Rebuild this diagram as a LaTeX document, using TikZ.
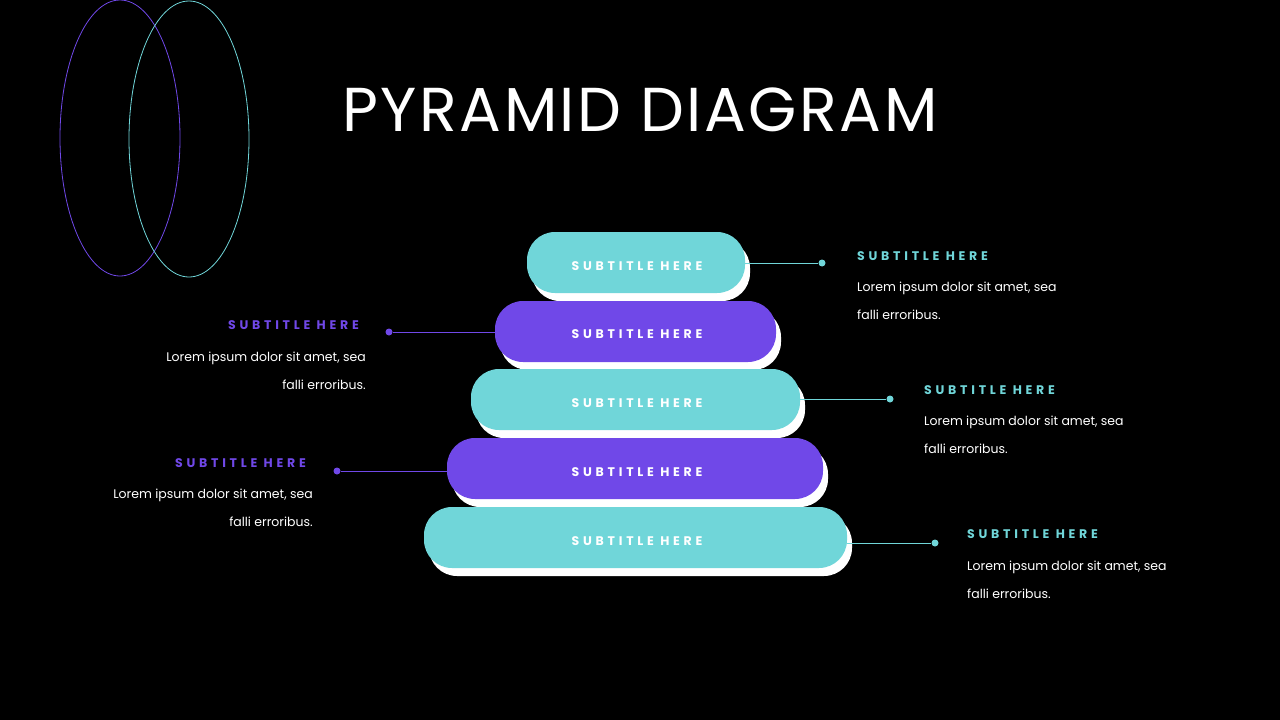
\documentclass[tikz,border=0pt]{standalone}
\usepackage{fontspec}
\setmainfont{Poppins}
\newfontfamily\sub[LetterSpace=30]{Poppins}
\newfontfamily\ttl[LetterSpace=4]{Poppins}
\definecolor{cy}{HTML}{70D6D9}
\definecolor{pu}{HTML}{7048E8}
\begin{document}
\begin{tikzpicture}[x=1pt,y=-1pt,
  pill/.style={rounded corners=28pt},
  pt/.style={text=white,font=\sub\bfseries\fontsize{12.5}{13}\selectfont},
  lab/.style={font=\sub\bfseries\fontsize{12.5}{13}\selectfont,inner sep=0pt},
  body/.style={text=white,font=\fontsize{12.5}{28}\selectfont,inner sep=0pt},
  ln/.style={line width=0.6pt},
  dot/.style={circle,inner sep=0pt,minimum size=7pt}]
\fill[black] (0,0) rectangle (1280,720);
\useasboundingbox (0,0) rectangle (1280,720);
\draw[pu,line width=0.8pt] (120,138) ellipse [x radius=60,y radius=138];
\draw[cy,line width=0.8pt] (189,139) ellipse [x radius=60,y radius=138];
\node[text=white,font=\ttl\fontsize{62}{62}\selectfont] (title) at (640,110) {PYRAMID DIAGRAM};
% pills
\foreach \n/\a/\b/\ya/\yb/\c in {1/527/745/232/293/cy,2/495/776/301/362/pu,3/471/800/369/430/cy,4/447/823/438/499/pu,5/424/847/507/568/cy}{
  \fill[white,pill] (\a+5,\ya+8) rectangle (\b+5,\yb+8);
  \fill[\c,pill] (\a,\ya) rectangle (\b,\yb);
}
\node[pt] (p1) at (637,266) {SUBTITLE HERE};
\node[pt] (p2) at (637,334) {SUBTITLE HERE};
\node[pt] (p3) at (637,403) {SUBTITLE HERE};
\node[pt] (p4) at (637,472) {SUBTITLE HERE};
\node[pt] (p5) at (637,541) {SUBTITLE HERE};
\coordinate (e1) at (745,263); \coordinate (e2) at (495,332);
\coordinate (e3) at (800,399); \coordinate (e4) at (447,471);
\coordinate (e5) at (847,543);
\node[dot,fill=cy] (d1) at (822,263) {};
\node[dot,fill=pu] (d2) at (389,332) {};
\node[dot,fill=cy] (d3) at (890,399) {};
\node[dot,fill=pu] (d4) at (337,471) {};
\node[dot,fill=cy] (d5) at (935,543) {};
\draw[ln,cy] (e1) -- (d1); \draw[ln,pu] (e2) -- (d2);
\draw[ln,cy] (e3) -- (d3); \draw[ln,pu] (e4) -- (d4);
\draw[ln,cy] (e5) -- (d5);
% labels
\node[lab,text=cy,anchor=west] (l1) at (857,256) {SUBTITLE HERE};
\node[body,anchor=north west,align=left] (b1) at (857,282) {Lorem ipsum dolor sit amet, sea\\falli erroribus.};
\node[lab,text=pu,anchor=east] (l2) at (359,325) {SUBTITLE HERE};
\node[body,anchor=north east,align=right] (b2) at (366,352) {Lorem ipsum dolor sit amet, sea\\falli erroribus.};
\node[lab,text=cy,anchor=west] (l3) at (924,390) {SUBTITLE HERE};
\node[body,anchor=north west,align=left] (b3) at (924,416) {Lorem ipsum dolor sit amet, sea\\falli erroribus.};
\node[lab,text=pu,anchor=east] (l4) at (306,463) {SUBTITLE HERE};
\node[body,anchor=north east,align=right] (b4) at (313,489) {Lorem ipsum dolor sit amet, sea\\falli erroribus.};
\node[lab,text=cy,anchor=west] (l5) at (967,534) {SUBTITLE HERE};
\node[body,anchor=north west,align=left] (b5) at (967,561) {Lorem ipsum dolor sit amet, sea\\falli erroribus.};
\end{tikzpicture}
\end{document}
